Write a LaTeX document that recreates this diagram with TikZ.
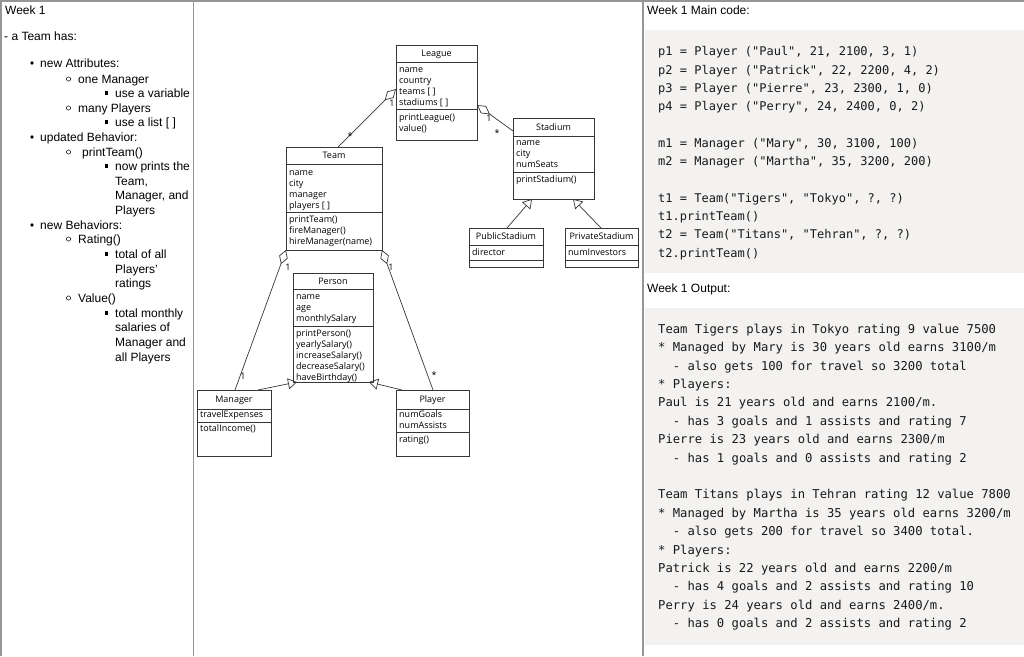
\documentclass[tikz,border=0pt]{standalone}
\usepackage{fontspec}
\setmainfont{Liberation Sans}
\newfontfamily\umlfont{Open Sans}
\newfontfamily\codefont{DejaVu Sans Mono}
\usetikzlibrary{arrows.meta,calc}
\definecolor{codebg}{RGB}{243,242,241}
\definecolor{rulegray}{RGB}{150,150,150}
\definecolor{umlline}{RGB}{55,55,55}
\tikzset{
  classbox/.style={draw=umlline, line width=0.8pt, inner sep=0pt, outer sep=0pt, fill=white},
  umlrule/.style={draw=umlline, line width=0.8pt},
  umltext/.style={font=\umlfont\fontsize{9}{11}\selectfont, inner sep=0pt, text=black},
  mult/.style={font=\umlfont\fontsize{9}{11}\selectfont, inner sep=0pt},
  aggr/.style={draw=umlline, line width=0.7pt, {Diamond[open,length=16pt,width=9pt]}-},
  gener/.style={draw=umlline, line width=0.7pt, -{Triangle[open,length=9pt,width=11pt]}},
  ptext/.style={font=\fontsize{12}{14}\selectfont, inner sep=0pt, anchor=base west},
  ctext/.style={font=\codefont\fontsize{12}{14}\selectfont, inner sep=0pt, anchor=base west, text=black!90},
  otext/.style={font=\codefont\fontsize{12.2}{14}\selectfont, inner sep=0pt, anchor=base west, text=black!90},
  panelrule/.style={draw=rulegray, line width=1.6pt},
}
% name, x1, y1, x2, y2, sep1, sep2, title
\newcommand\umlclass[8]{%
  \node[classbox, minimum width={(#4-#2)*1pt}, minimum height={(#5-#3)*1pt}, anchor=north west] (#1) at (#2,#3) {};
  \draw[umlrule] (#2,#6) -- (#4,#6);
  \draw[umlrule] (#2,#7) -- (#4,#7);
  \node[umltext, anchor=base] (#1-title) at ({(#2+#4)/2},{(#3+#6)/2+3.2}) {#8};
}
% name, x, first centre y, list
\newcommand\umllines[4]{%
  \foreach \itm [count=\i] in {#4} {
    \node[umltext, anchor=base west] (#1-\i) at (#2,{#3+(\i-1)*11+3.2}) {\itm};
  }
}
\begin{document}
\begin{tikzpicture}[x=1pt,y=-1pt]
\useasboundingbox (0,0) rectangle (1024,656);
\fill[white] (0,0) rectangle (1024,656);

% panel frame
\draw[panelrule] (0,0.8) -- (1024,0.8);
\draw[panelrule] (0.8,0) -- (0.8,656);
\draw[panelrule] (193.5,0) -- (193.5,656);
\draw[panelrule] (643,0) -- (643,656);

% ---------------- left panel ----------------
\node[ptext] (lw) at (5,14.3) {Week 1};
\node[ptext] (lt) at (4,40.3) {- a Team has:};
\tikzset{b2/.style={draw=black, line width=0.5pt}}
% level 1
\foreach \yy/\txt [count=\k] in {63/new Attributes:, 137/updated Behavior:, 225/new Behaviors:} {
  \fill (32,\yy) circle (1.9);
  \node[ptext] (l1-\k) at (40,\yy+4.3) {\txt};
}
% level 2
\foreach \yy/\txt [count=\k] in {79/one Manager, 108/many Players, 239/Rating(), 298/Value()} {
  \draw[b2] (68.5,\yy) circle (2.1);
  \node[ptext] (l2-\k) at (78,\yy+4.3) {\txt};
}
\draw[b2] (68.5,152) circle (2.1);
\node[ptext] (l2-p) at (82,152+4.3) {printTeam()};
% level 3
\foreach \yy in {93,122,166,254,313} {
  \fill (104.5,\yy-1.7) rectangle (108,\yy+1.8);
}
\foreach \yy/\txt [count=\k] in {93/use a variable, 122/use a list [ ], 166/now prints the, 181/{Team,}, 195/{Manager, and}, 210/Players, 254/total of all, 269/Players', 283/ratings, 313/total monthly, 327/salaries of, 342/Manager and, 357/all Players} {
  \node[ptext] (l3-\k) at (115,\yy+4.3) {\txt};
}

% ---------------- UML diagram ----------------
\umlclass{league}{396}{45}{477}{140}{62}{109}{League}
\umllines{league-a}{399}{69}{name,country,teams [ ],stadiums [ ]}
\umllines{league-m}{399}{117}{printLeague(),value()}

\umlclass{stadium}{513}{118}{594}{199}{136}{172}{Stadium}
\umllines{stadium-a}{516}{142}{name,city,numSeats}
\umllines{stadium-m}{516}{179}{printStadium()}

\umlclass{pubstad}{469}{228}{543}{267}{245}{260}{PublicStadium}
\umllines{pubstad-a}{472}{252}{director}

\umlclass{privstad}{565}{228}{638}{267}{245}{260}{PrivateStadium}
\umllines{privstad-a}{568}{252}{numInvestors}

\umlclass{team}{286}{147}{382}{250}{164}{212}{Team}
\umllines{team-a}{289}{172}{name,city,manager,players [ ]}
\umllines{team-m}{289}{219}{printTeam(),fireManager(),hireManager(name)}

\umlclass{person}{293}{273}{373}{382}{289}{326}{Person}
\umllines{person-a}{296}{296}{name,age,monthlySalary}
\umllines{person-m}{296}{333}{printPerson(),yearlySalary(),increaseSalary(),decreaseSalary(),haveBirthday()}

\umlclass{manager}{197}{390}{271}{456}{409}{422}{Manager}
\umllines{manager-a}{200}{414}{travelExpenses}
\umllines{manager-m}{200}{428}{totalIncome()}

\umlclass{player}{396}{390}{469}{456}{409}{432}{Player}
\umllines{player-a}{399}{414}{numGoals,numAssists}
\umllines{player-m}{399}{439}{rating()}

% connectors
\draw[aggr] ($(league.north west)+(0,44)$) -- ($(team.north west)+(52,0)$);
\draw[aggr] ($(league.north east)+(0,60)$) -- ($(stadium.north west)+(0,13)$);
\draw[aggr, {Diamond[open,length=15pt,width=9pt]}-] (team.south west) -- ($(manager.north west)+(38,0)$);
\draw[aggr, {Diamond[open,length=15pt,width=9pt]}-] (team.south east) -- ($(player.north west)+(37,0)$);
\draw[gener] ($(pubstad.north west)+(38,0)$) -- ($(stadium.south west)+(19,0)$);
\draw[gener] ($(privstad.north west)+(36,0)$) -- ($(stadium.south west)+(60,0)$);
\draw[gener] ($(manager.north west)+(61,0)$) -- ($(person.south west)+(4,0)$);
\draw[gener] ($(player.north west)+(6,0)$) -- ($(person.south east)+(-4,0)$);

% multiplicities
\node[mult] (m1) at (392,103) {1};
\node[mult] (m2) at (350,136) {*};
\node[mult] (m3) at (489,118) {1};
\node[mult] (m4) at (497,133) {*};
\node[mult] (m5) at (288,267) {1};
\node[mult] (m6) at (243,376) {1};
\node[mult] (m7) at (391,267) {1};
\node[mult] (m8) at (434,375) {*};

% ---------------- right panel ----------------
\node[ptext] (rw) at (647,14.3) {Week 1 Main code:};
\fill[codebg] (645,30) rectangle (1024,273);
\foreach \yy/\txt [count=\k] in {
  51.6/{p1 = Player ("Paul", 21, 2100, 3, 1)},
  69.9/{p2 = Player ("Patrick", 22, 2200, 4, 2)},
  88.2/{p3 = Player ("Pierre", 23, 2300, 1, 0)},
  106.5/{p4 = Player ("Perry", 24, 2400, 0, 2)},
  143.1/{m1 = Manager ("Mary", 30, 3100, 100)},
  161.4/{m2 = Manager ("Martha", 35, 3200, 200)},
  198/{t1 = Team("Tigers", "Tokyo", ?, ?)},
  216.3/{t1.printTeam()},
  234.6/{t2 = Team("Titans", "Tehran", ?, ?)},
  252.9/{t2.printTeam()}} {
  \node[ctext] (code-\k) at (658,\yy+4.3) {\txt};
}
\node[ptext] (ro) at (647,292.3) {Week 1 Output:};
\fill[codebg] (645,308) rectangle (1024,645);
\foreach \yy/\txt [count=\k] in {
  329/{Team Tigers plays in Tokyo rating 9 value 7500},
  347.4/{* Managed by Mary is 30 years old earns 3100/m},
  365.8/{\ \ - also gets 100 for travel so 3200 total},
  384.2/{* Players:},
  402.6/{Paul is 21 years old and earns 2100/m.},
  421/{\ \ - has 3 goals and 1 assists and rating 7},
  439.4/{Pierre is 23 years old and earns 2300/m},
  457.8/{\ \ - has 1 goals and 0 assists and rating 2},
  494.6/{Team Titans plays in Tehran rating 12 value 7800},
  513/{* Managed by Martha is 35 years old earns 3200/m},
  531.4/{\ \ - also gets 200 for travel so 3400 total.},
  549.8/{* Players:},
  568.2/{Patrick is 22 years old and earns 2200/m},
  586.6/{\ \ - has 4 goals and 2 assists and rating 10},
  605/{Perry is 24 years old and earns 2400/m.},
  623.4/{\ \ - has 0 goals and 2 assists and rating 2}} {
  \node[otext] (out-\k) at (658,\yy+4.3) {\txt};
}
\end{tikzpicture}
\end{document}
